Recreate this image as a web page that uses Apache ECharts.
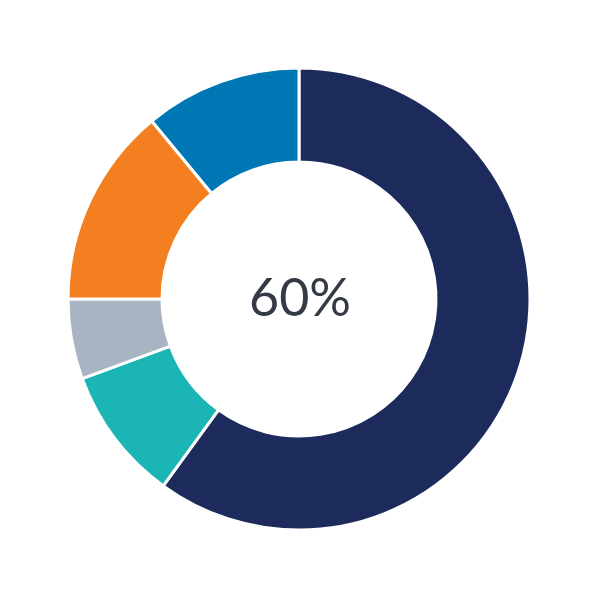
<!DOCTYPE html>
<html>
<head>
<meta charset="utf-8">
<script src="https://cdn.jsdelivr.net/npm/echarts@6/dist/echarts.min.js"></script>
<style>
  html, body { margin: 0; padding: 0; background: #fff; }
  #main { width: 600px; height: 599px; }
</style>
</head>
<body>
<div id="main"></div>
<script>
// 数据
var names = ['A', 'B', 'C', 'D', 'E'];
var values = [60, 9.4, 5.6, 14, 11];
var colors = ['#1c2b5b', '#1bb5b6', '#a9b4c2', '#f47f20', '#0077b5'];
var centerText = '60%';

var chart = echarts.init(document.getElementById('main'));

var option = {
  animation: false,
  graphic: [{
    type: 'text',
    left: 'center',
    top: 'middle',
    style: {
      text: centerText,
      fontFamily: 'Lato',
      fontSize: 52,
      fill: '#333a45'
    }
  }],
  series: [{
    type: 'pie',
    center: [299, 299],
    radius: [137, 231],
    startAngle: 90,
    clockwise: true,
    label: { show: false },
    labelLine: { show: false },
    itemStyle: {
      borderColor: '#fff',
      borderWidth: 3
    },
    data: names.map(function (n, i) {
      return { name: n, value: values[i], itemStyle: { color: colors[i] } };
    })
  }]
};

chart.setOption(option);
</script>
</body>
</html>
